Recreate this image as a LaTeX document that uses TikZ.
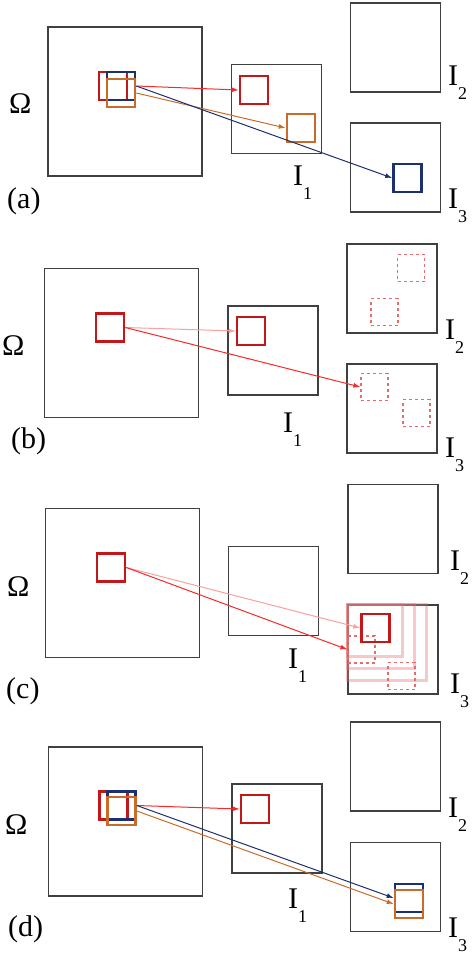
\documentclass[tikz,border=0pt]{standalone}
\usepackage{fontspec}
\setmainfont{Liberation Serif}
\usetikzlibrary{arrows.meta}
\definecolor{winred}{RGB}{196,24,24}
\definecolor{winblue}{RGB}{28,48,112}
\definecolor{winorange}{RGB}{200,108,40}
\definecolor{arrred}{RGB}{250,40,40}
\definecolor{arrpink}{RGB}{250,160,160}
\definecolor{ghost}{RGB}{225,110,110}
\definecolor{shade}{RGB}{230,120,120}
\newcommand{\imgname}[1]{I\raisebox{-14pt}{\fontsize{18}{18}\selectfont #1}}

\begin{document}
\begin{tikzpicture}[x=1pt, y=-1pt,
  omegabox/.style={draw=black!75, line width=1.5pt, minimum width=154pt,
                   minimum height=149pt, inner sep=0pt},
  imgbox/.style={draw=black!75, line width=1.5pt, minimum width=90pt,
                 minimum height=89pt, inner sep=0pt},
  win/.style={draw=#1, line width=2.6pt, minimum size=28pt, inner sep=0pt},
  cand/.style={draw=ghost, dashed, line width=1.2pt, minimum size=27pt, inner sep=0pt},
  spread/.style={draw=shade, opacity=0.4, line width=2.5pt},
  lab/.style={anchor=base west, inner sep=0pt, font=\fontsize{30}{30}\selectfont},
  arr/.style={-{Latex[length=7pt,width=5pt]}, line width=1pt}]
\useasboundingbox (0,0) rectangle (474,956);

% (a)
\node[omegabox] (omegaA) at (125,101.5) {};
\node[imgbox] (iOneA) at (276.5,109) {};
\node[imgbox] (iTwoA) at (395.5,47.5) {};
\node[imgbox] (iThreeA) at (395.5,167.5) {};
\node[win=winred] (redA) at (113,86) {};
\node[win=winblue] (blueA) at (121,86) {};
\node[win=winorange] (oraA) at (121,93) {};
\node[win=winred] (redA1) at (254,90) {};
\node[win=winorange] (oraA1) at (301,128) {};
\node[win=winblue] (blueA1) at (407.5,178) {};
\draw[arr, arrred] (blueA.east) -- (redA1.west);
\draw[arr, winorange] (oraA.east) -- (oraA1.west);
\draw[arr, winblue] (blueA.east) -- (blueA1.west);
\node[lab] (omegaLabA) at (9,113) {Ω};
\node[lab] (tagA) at (7,208) {(a)};
\node[lab] (iOneLabA) at (293,185) {\imgname{1}};
\node[lab] (iTwoLabA) at (448,85) {\imgname{2}};
\node[lab] (iThreeLabA) at (448,208) {\imgname{3}};

% (b)
\node[omegabox] (omegaB) at (121.5,343) {};
\node[imgbox] (iOneB) at (273,350.5) {};
\node[imgbox] (iTwoB) at (392,288.5) {};
\node[imgbox] (iThreeB) at (392,408.5) {};
\node[win=winred] (redB) at (110,327.5) {};
\node[win=winred] (redB1) at (251,331) {};
\node[cand] (candB1) at (411,268) {};
\node[cand] (candB2) at (384.5,312) {};
\node[cand] (candB3) at (374.5,387) {};
\node[cand] (candB4) at (416.5,413) {};
\draw[arr, arrpink] (redB.east) -- (redB1.west);
\draw[arr, arrred] (redB.east) -- (candB3.west);
\node[lab] (omegaLabB) at (2,355) {Ω};
\node[lab] (tagB) at (11,448) {(b)};
\node[lab] (iOneLabB) at (283,432) {\imgname{1}};
\node[lab] (iTwoLabB) at (445,339) {\imgname{2}};
\node[lab] (iThreeLabB) at (445,457) {\imgname{3}};

% (c)
\node[omegabox] (omegaC) at (122.5,583) {};
\node[imgbox] (iOneC) at (273.5,591) {};
\node[imgbox] (iTwoC) at (393,529) {};
\node[imgbox] (iThreeC) at (393,649.5) {};
\draw[spread] (iThreeC.north west) rectangle ++(55,52);
\draw[spread] (iThreeC.north west) rectangle ++(67,64);
\draw[spread] (iThreeC.north west) rectangle ++(79,76);
\node[cand] (candC1) at (361.5,649.5) {};
\node[cand] (candC2) at (401.5,676) {};
\node[win=winred] (redC) at (111,567.5) {};
\node[win=winred] (redC1) at (375.5,628) {};
\draw[arr, arrpink] (redC.east) -- (redC1.west);
\draw[arr, arrred] (redC.east) -- (candC1.west);
\node[lab] (omegaLabC) at (7,596) {Ω};
\node[lab] (tagC) at (6,698) {(c)};
\node[lab] (iOneLabC) at (288,668) {\imgname{1}};
\node[lab] (iTwoLabC) at (450,570) {\imgname{2}};
\node[lab] (iThreeLabC) at (450,693) {\imgname{3}};

% (d)
\node[omegabox] (omegaD) at (125.5,821.5) {};
\node[imgbox] (iOneD) at (277,828.5) {};
\node[imgbox] (iTwoD) at (395.5,766.5) {};
\node[imgbox] (iThreeD) at (395.5,887) {};
\node[win=winred] (redD) at (113.5,805.5) {};
\node[win=winblue] (blueD) at (121.5,805.5) {};
\node[win=winorange] (oraD) at (121.5,811) {};
\node[win=winred] (redD1) at (255,809) {};
\node[win=winblue] (blueD1) at (409,898) {};
\node[win=winorange] (oraD1) at (409,904) {};
\draw[arr, arrred] (blueD.east) -- (redD1.west);
\draw[arr, winblue] (blueD.east) -- (blueD1.west);
\draw[arr, winorange] (oraD.east) -- (oraD1.west);
\node[lab] (omegaLabD) at (5,834) {Ω};
\node[lab] (tagD) at (8,936) {(d)};
\node[lab] (iOneLabD) at (288,908) {\imgname{1}};
\node[lab] (iTwoLabD) at (448,817) {\imgname{2}};
\node[lab] (iThreeLabD) at (448,937) {\imgname{3}};
\end{tikzpicture}
\end{document}
